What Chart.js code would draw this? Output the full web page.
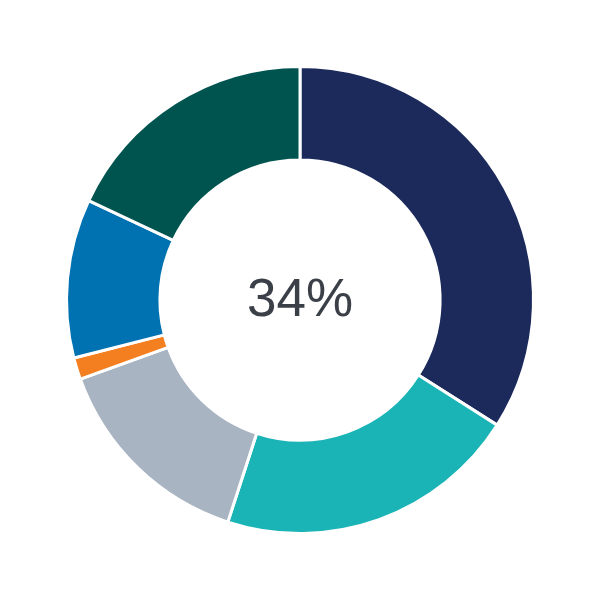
<!DOCTYPE html>
<html>
<head>
<meta charset="utf-8">
<script src="https://cdn.jsdelivr.net/npm/chart.js@4"></script>
<style>
  html, body { margin: 0; padding: 0; background: #fff; }
  #wrap { position: relative; width: 600px; height: 600px; }
  #centerText {
    position: absolute; left: 0; top: -3px; width: 600px; height: 600px;
    display: flex; align-items: center; justify-content: center;
    font-family: "Liberation Sans", Arial, sans-serif; font-size: 53px;
    color: #3b3f48; pointer-events: none;
  }
</style>
</head>
<body>
<div id="wrap">
  <canvas id="donutChart" width="600" height="600"></canvas>
  <div id="centerText">34%</div>
</div>
<script>
// Share of each segment, clockwise from the top
const segmentLabels = ['Segment A', 'Segment B', 'Segment C', 'Segment D', 'Segment E', 'Segment F'];
const segmentValues = [34, 21, 14.5, 1.5, 11, 18];
const segmentColors = ['#1b2a5b', '#1ab4b6', '#a9b4c2', '#f47f20', '#0072b2', '#00544f'];

new Chart(document.getElementById('donutChart'), {
    type: 'doughnut',
    data: {
        labels: segmentLabels,
        datasets: [{
            data: segmentValues,
            backgroundColor: segmentColors,
            borderColor: '#ffffff',
            borderWidth: 3
        }]
    },
    options: {
        responsive: false,
        animation: false,
        cutout: '60%',
        layout: { padding: 65 },
        plugins: {
            legend: { display: false },
            tooltip: { enabled: false }
        }
    }
});
</script>
</body>
</html>
